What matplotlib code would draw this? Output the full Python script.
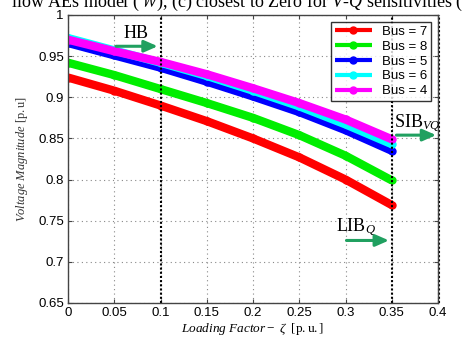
import matplotlib
matplotlib.use("Agg")
import matplotlib.pyplot as plt

plt.rcParams['mathtext.fontset'] = 'custom'
plt.rcParams['mathtext.rm'] = 'Liberation Serif'
plt.rcParams['mathtext.it'] = 'Liberation Serif:italic'
plt.rcParams['font.family'] = ['Liberation Sans', 'DejaVu Sans']

# Data
zeta = [0.0, 0.05, 0.10, 0.15, 0.20, 0.25, 0.30, 0.35]
bus7 = [0.924, 0.908, 0.890, 0.871, 0.850, 0.827, 0.800, 0.769]
bus8 = [0.942, 0.927, 0.910, 0.893, 0.875, 0.854, 0.829, 0.799]
bus5 = [0.966, 0.951, 0.936, 0.919, 0.901, 0.882, 0.860, 0.835]
bus6 = [0.972, 0.957, 0.942, 0.926, 0.908, 0.889, 0.867, 0.843]
bus4 = [0.970, 0.956, 0.943, 0.928, 0.911, 0.893, 0.873, 0.849]
series = [("Bus = 7", bus7, "#ff0000"), ("Bus = 8", bus8, "#00ee00"),
          ("Bus = 5", bus5, "#0000ff"), ("Bus = 6", bus6, "#00ffff"),
          ("Bus = 4", bus4, "#ff00ff")]
xticks = [0, 0.05, 0.1, 0.15, 0.2, 0.25, 0.3, 0.35, 0.4]
xticklabels = ["0", "0.05", "0.1", "0.15", "0.2", "0.25", "0.3", "0.35", "0.4"]
yticks = [0.65, 0.7, 0.75, 0.8, 0.85, 0.9, 0.95, 1.0]
yticklabels = ["0.65", "0.7", "0.75", "0.8", "0.85", "0.9", "0.95", "1"]
vlines = [0.1, 0.35, 0.401]

fig = plt.figure(figsize=(4.74, 3.37), dpi=100)
ax = fig.add_axes([0.1435, 0.1009, 0.7806, 0.8546])

for lab, ys, c in series:
    ax.plot(zeta, ys, color=c, lw=6, marker='o', ms=5, label=lab,
            solid_capstyle='butt', solid_joinstyle='round')

ax.set_xlim(0, 0.4)
ax.set_ylim(0.65, 1.0)
ax.set_xticks(xticks)
ax.set_xticklabels(xticklabels)
ax.set_yticks(yticks)
ax.set_yticklabels(yticklabels)
ax.tick_params(direction='in', top=True, right=True, labelsize=9.5, length=3, color='#444444', pad=3)
ax.grid(True, ls=(0, (1, 3)), color='#888888', lw=0.8)
for s in ax.spines.values():
    s.set_color('#444444')
    s.set_linewidth(1.0)

for xv in vlines:
    ax.axvline(xv, color='black', ls=(0, (1, 1)), lw=1.5, clip_on=False)

green = "#20a060"
arrow = dict(arrowstyle='-|>,head_length=0.8,head_width=0.35', color=green, lw=2.2)
ax.annotate("", xy=(0.1, 0.962), xytext=(0.049, 0.962), arrowprops=arrow)
ax.annotate("", xy=(0.35, 0.726), xytext=(0.298, 0.726), arrowprops=arrow)
ax.annotate("", xy=(0.401, 0.854), xytext=(0.352, 0.854), arrowprops=arrow, annotation_clip=False)
ax.text(0.073, 0.978, "HB", family='Liberation Serif', fontsize=13, ha='center', va='center')
ax.text(0.311, 0.742, r"$\mathrm{LIB}_{Q}$", fontsize=13, ha='center', va='center')
ax.text(0.352, 0.868, r"$\mathrm{SIB}_{VQ}$", fontsize=13, ha='left', va='center', clip_on=False)

leg = ax.legend(loc='upper right', fontsize=9.5, frameon=True, fancybox=False,
                handlelength=2.8, borderpad=0.3, labelspacing=0.2, borderaxespad=0.5)
leg.get_frame().set_edgecolor('black')
leg.get_frame().set_linewidth(1.0)
for h in leg.get_lines():
    h.set_linewidth(3)
    h.set_markersize(5)

ax.set_xlabel(r"$\mathit{Loading\ Factor}-\ \zeta\ \ [\mathrm{p.u.}]$", fontsize=9.5, labelpad=1)
ax.set_ylabel(r"$\mathit{Voltage\ Magnitude}\ [\mathrm{p.u}]$", fontsize=9, labelpad=6, color='#333333')

fig.text(0.5, 1 - 7 / 337, r"llow AEs model ($\mathcal{W}$), (c) closest to Zero for $V$-$Q$ sensitivities (",
         family='Liberation Serif', fontsize=13, ha='center', va='baseline')

fig.savefig("out.png", dpi=100)
